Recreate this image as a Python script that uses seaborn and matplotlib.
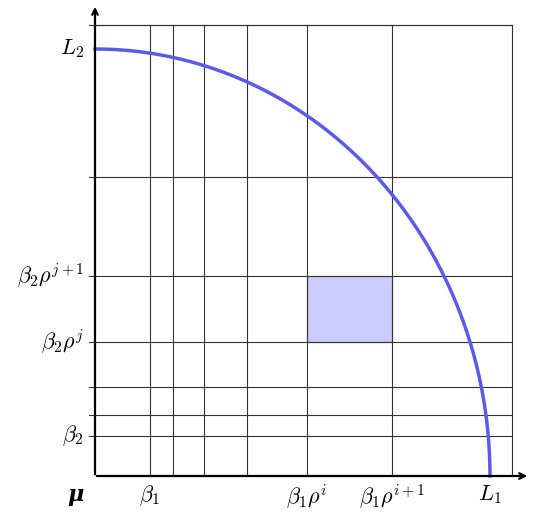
import numpy as np
import pandas as pd
import matplotlib
matplotlib.use("Agg")
import matplotlib.pyplot as plt
import seaborn as sns

plt.rcParams['mathtext.fontset'] = 'cm'

# positions in pixel-like units relative to origin (x right, y up)
vlines = [55, 78, 109, 152, 212, 297, 417]
hlines = [40, 61, 89, 134, 200, 299, 451]
L1, L2 = 395, 427
xlabels = [(55, r'$\beta_1$'), (212, r'$\beta_1\rho^i$'), (297, r'$\beta_1\rho^{i+1}$'), (395, r'$L_1$')]
ylabels = [(427, r'$L_2$'), (200, r'$\beta_2\rho^{j+1}$'), (134, r'$\beta_2\rho^j$'), (40, r'$\beta_2$')]
rect = (212, 134, 297, 200)

fig = plt.figure(figsize=(5.38, 5.17), dpi=100)
ax = fig.add_axes([0, 0, 1, 1])
ox, oy = 95, 41
ax.set_xlim(-ox, 538 - ox)
ax.set_ylim(-oy, 517 - oy)
ax.axis('off')

top, right = 451, 417
for x in vlines:
    ax.plot([x, x], [0, top], color='#333333', lw=0.8)
for y in hlines:
    ax.plot([-6, right], [y, y], color='#333333', lw=0.8)
ax.plot([0, right], [top, top], color='#333333', lw=0.8)

ax.fill_between([rect[0], rect[2]], rect[1], rect[3], color='#ccccff', lw=0.8, edgecolor='#333333')

t = np.linspace(0, np.pi / 2, 300)
df = pd.DataFrame({'x': L1 * np.cos(t), 'y': L2 * np.sin(t)})
sns.lineplot(data=df, x='x', y='y', sort=False, color='#5b5be8', lw=2.5, ax=ax)
ax.axis('off')

ax.annotate('', xy=(435, 0), xytext=(-1, 0), arrowprops=dict(arrowstyle='->', lw=1.6, color='black'))
ax.annotate('', xy=(0, 472), xytext=(0, -1), arrowprops=dict(arrowstyle='->', lw=1.6, color='black'))

for x, s in xlabels:
    ax.text(x, -7, s, ha='center', va='top', fontsize=16)
for y, s in ylabels:
    ax.text(-11, y, s, ha='right', va='center', fontsize=16)
ax.text(-20, -8, 'μ', ha='center', va='top', fontsize=16, fontweight='bold', style='italic', family='DejaVu Serif')

fig.savefig('out.png', dpi=100)
